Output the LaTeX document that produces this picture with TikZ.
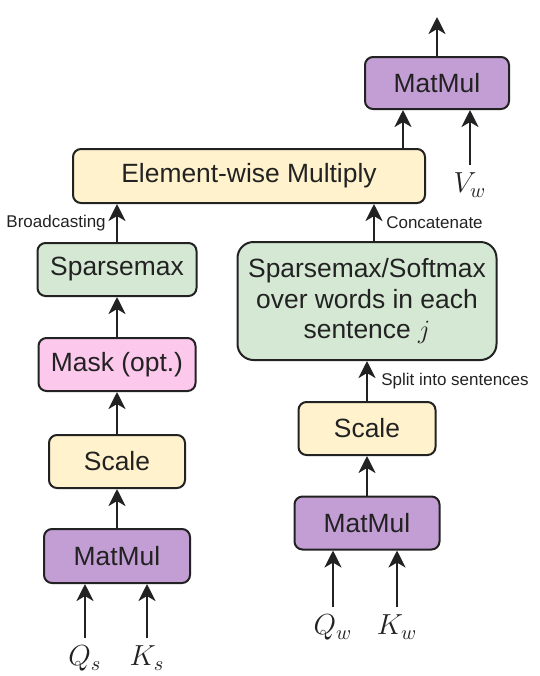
\RequirePackage{fix-cm}
\documentclass[tikz,border=0pt]{standalone}
\usepackage{fontspec}
\setmainfont{Liberation Sans}
\usetikzlibrary{arrows.meta}
\definecolor{mmpurple}{RGB}{195,158,212}
\definecolor{opyellow}{RGB}{255,242,204}
\definecolor{smgreen}{RGB}{213,232,212}
\definecolor{mkpink}{RGB}{252,200,236}
\definecolor{txt}{RGB}{34,34,34}

\begin{document}
\begin{tikzpicture}[x=0.5pt,y=-0.5pt,
    box/.style={draw=txt,line width=1pt,rounded corners=4pt,inner sep=0pt,
      text=txt,font=\fontsize{13.2}{15.2}\selectfont},
    arr/.style={-{Stealth[length=8.5pt,width=8.5pt,inset=2.5pt]},line width=1.3pt,draw=txt},
    note/.style={font=\fontsize{8.5}{10}\selectfont,text=txt,inner sep=1pt},
    sym/.style={anchor=north,inner sep=0pt,outer sep=4pt,text=txt,
      font=\fontsize{14.5}{16}\selectfont}]

        \useasboundingbox (0,0) rectangle (540,676);

        \begin{scope}[every node/.style={box}]
          \node[fill=mmpurple,minimum width=72pt,minimum height=26pt]   (mmtop) at (437,83)    {MatMul};
          \node[fill=opyellow,minimum width=176pt,minimum height=27pt]  (ewm)   at (249,176)   {Element-wise Multiply};
          \node[fill=smgreen,minimum width=79.5pt,minimum height=26.5pt] (spl)  at (117,269.5) {Sparsemax};
          \node[fill=mkpink,minimum width=78.5pt,minimum height=26.5pt] (mask)  at (117,364.5) {Mask (opt.)};
          \node[fill=opyellow,minimum width=68pt,minimum height=26.5pt] (scl)   at (117,461.5) {Scale};
          \node[fill=mmpurple,minimum width=73pt,minimum height=27pt]   (mml)   at (117,556)   {MatMul};
          \node[fill=smgreen,minimum width=129.5pt,minimum height=59pt,
                rounded corners=8pt,align=center]                        (sw)    at (367,301)
                {Sparsemax/Softmax\\over words in each\\sentence $j$};
          \node[fill=opyellow,minimum width=68.5pt,minimum height=26.5pt] (scr) at (367,428.5) {Scale};
          \node[fill=mmpurple,minimum width=72.5pt,minimum height=26.5pt] (mmr) at (367,523)   {MatMul};
        \end{scope}

        \node[sym] (qs) at (85,638)  {$Q_s$};
        \node[sym] (ks) at (147,638) {$K_s$};
        \node[sym] (qw) at (333,607) {$Q_w$};
        \node[sym] (kw) at (397,607) {$K_w$};
        \node[sym] (vw) at (470,165) {$V_w$};

        \coordinate (out)  at (437,17);
        \coordinate (mmin) at (403,0);
        \coordinate (cat)  at (374,0);

        \begin{scope}[every edge/.style={arr}]
          \path (mmtop) edge (out);
          \path (mmin |- ewm.north) edge (mmin |- mmtop.south);
          \path (vw) edge (vw |- mmtop.south);
          \path (spl) edge node[note,left=4pt] {Broadcasting} (spl |- ewm.south);
          \path (cat |- sw.north) edge node[note,right=4.5pt] {Concatenate} (cat |- ewm.south);
          \path (mask) edge (spl);
          \path (scl) edge (mask);
          \path (mml) edge (scl);
          \path (qs) edge (qs |- mml.south);
          \path (ks) edge (ks |- mml.south);
          \path (scr) edge node[note,right=5.5pt] {Split into sentences} (sw);
          \path (mmr) edge (scr);
          \path (qw) edge (qw |- mmr.south);
          \path (kw) edge (kw |- mmr.south);
        \end{scope}

      \end{tikzpicture}
\end{document}
